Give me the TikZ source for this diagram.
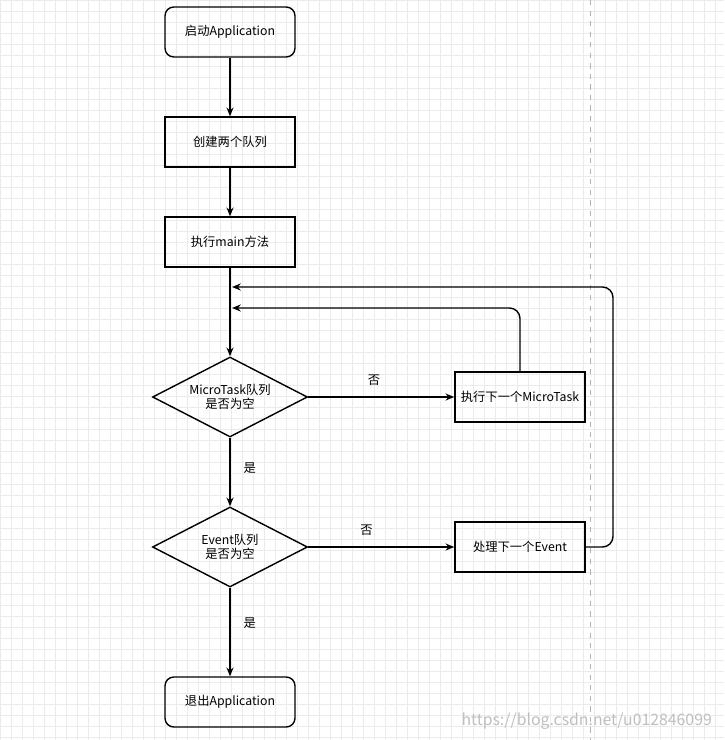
\documentclass[tikz,border=0pt]{standalone}
\usepackage{fontspec}
\setmainfont{Noto Sans CJK SC}
\usetikzlibrary{shapes.geometric,arrows.meta,positioning}
\tikzset{
  box/.style={draw, thick, minimum width=2.6cm, minimum height=1cm, font=\fontsize{7}{8}\selectfont},
  startstop/.style={box, rounded corners=5pt},
  decide/.style={draw, thick, diamond, aspect=1.94, minimum width=3.1cm, minimum height=1.6cm, inner sep=0pt, align=center, font=\fontsize{7}{8}\selectfont},
  flow/.style={thick, -{Stealth[length=5pt,width=4pt]}},
  tag/.style={font=\fontsize{7}{8}\selectfont}
}
\begin{document}
\begin{tikzpicture}[x=0.02cm,y=-0.02cm]
\useasboundingbox (0,0) rectangle (724,740);
\fill[white] (0,0) rectangle (724,740);
% background grid
\foreach \i in {0,11,...,724} \draw[black!8, line width=0.3pt] (\i,0) -- (\i,740);
\foreach \j in {0,11,...,740} \draw[black!8, line width=0.3pt] (0,\j) -- (724,\j);
\draw[black!30, dashed, line width=0.4pt] (590,0) -- (590,740);

\node[startstop] (start) at (230,32) {启动Application};
\node[box] (queues) at (230,142) {创建两个队列};
\node[box] (main) at (230,242) {执行main方法};
\node[decide] (micro) at (230,397) {MicroTask队列\\是否为空};
\node[box] (domicro) at (520,397) {执行下一个MicroTask};
\node[decide] (event) at (230,547) {Event队列\\是否为空};
\node[box] (doevent) at (520,547) {处理下一个Event};
\node[startstop] (quit) at (230,702) {退出Application};

\coordinate (in1) at (232,308);
\coordinate (in2) at (232,287);

\draw[flow] (start) -- (queues);
\draw[flow] (queues) -- (main);
\draw[flow] (main) -- (micro);
\draw[flow] (micro) -- node[tag, above=3pt, pos=0.45] {否} (domicro);
\draw[flow] (micro) -- node[tag, right=4pt, pos=0.45] {是} (event);
\draw[flow] (event) -- node[tag, above=3pt, pos=0.4] {否} (doevent);
\draw[flow] (event) -- node[tag, right=4pt, pos=0.4] {是} (quit);
\draw[flow, rounded corners=6pt] (domicro.north) |- (in1);
\draw[flow, rounded corners=6pt] (doevent.east) -- (613,547) |- (in2);

\node[text=black!25, font=\fontsize{9}{10}\selectfont, anchor=south east] (mark) at (718,736) {https://blog.csdn.net/u012846099};
\end{tikzpicture}
\end{document}
